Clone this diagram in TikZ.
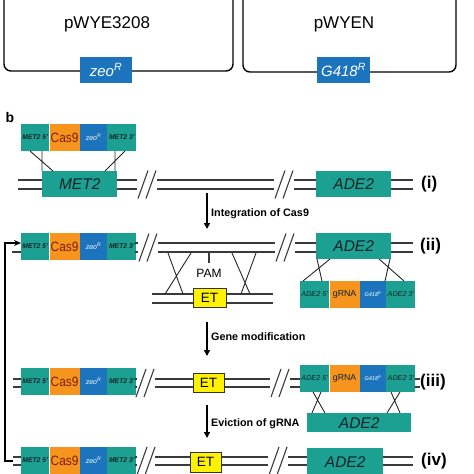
\documentclass[tikz,border=0pt]{standalone}
\usepackage{fontspec}
\setmainfont{Liberation Sans}
\usetikzlibrary{arrows.meta}
\definecolor{tealc}{HTML}{1BA091}
\definecolor{orangec}{HTML}{F7941D}
\definecolor{bluec}{HTML}{1C75BC}
\definecolor{yellc}{HTML}{FFF200}
\definecolor{dnac}{HTML}{3A3A3A}
\definecolor{txtc}{HTML}{142328}
\definecolor{casc}{HTML}{7A1E05}
\newcommand\fs[1]{\fontsize{#1}{#1}\selectfont}
\newcommand\metf{\fs{6.8}\bfseries\itshape}
\newcommand\dl[4]{\draw[dna] (#1,#3) -- (#2,#3) (#1,#4) -- (#2,#4);}
\newcommand\brk[2]{\draw[dna] ({#1-9},{#2+14}) -- ({#1+1},{#2-14}) ({#1-1},{#2+14}) -- ({#1+9},{#2-14});}
\newcommand\metc[2]{%
 \node[seg, fill=tealc, minimum width=28, font=\metf] (#1a) at (21,{#2+13.5}) {MET2 5'};
 \node[seg, fill=orangec, minimum width=30, font=\fs{13.5}, text=casc] (#1b) at (#1a.east) {\scalebox{0.88}[1]{Cas9}};
 \node[seg, fill=bluec, minimum width=27, font=\fs{7}\itshape, text=white] (#1c) at (#1b.east) {zeo\textsuperscript{R}};
 \node[seg, fill=tealc, minimum width=29, font=\metf] (#1d) at (#1c.east) {MET2 3'};
}
\newcommand\adec[2]{%
 \node[seg, fill=tealc, minimum width=29, font=\fs{7.2}\itshape] (#1a) at (300,{#2+13.5}) {ADE2 5'};
 \node[seg, fill=orangec, minimum width=30, font=\fs{8.8}] (#1b) at (#1a.east) {gRNA};
 \node[seg, fill=bluec, minimum width=26, font=\fs{5.5}\itshape, text=white] (#1c) at (#1b.east) {G418\textsuperscript{R}};
 \node[seg, fill=tealc, minimum width=29, font=\fs{7.2}\itshape] (#1d) at (#1c.east) {ADE2 3'};
}
\begin{document}
\begin{tikzpicture}[x=1pt,y=-1pt,
 seg/.style={inner sep=0, minimum height=27, anchor=west, text=txtc},
 dna/.style={draw=dnac, line width=1.1},
 cross/.style={draw=black!85, line width=0.9},
 genebox/.style={fill=tealc, inner sep=0, font=\fs{15.5}\itshape, text=txtc, anchor=north west},
 etbox/.style={fill=yellc, draw=black!80, line width=1, inner sep=0, font=\fs{13.5}, minimum width=33, minimum height=19},
 plasmid/.style={draw=black, line width=1.4, rounded corners=7},
 marker/.style={fill=bluec, inner sep=0, minimum width=52, minimum height=26, font=\fs{15}\itshape, text=white},
 varrow/.style={line width=2.6, -{Triangle[length=6pt,width=6pt]}},
 fb/.style={line width=1.8, -{Stealth[length=7pt,width=6pt]}},
 steplabel/.style={anchor=west, inner sep=0, font=\fs{10.8}\bfseries},
 rowlabel/.style={anchor=west, inner sep=0, font=\fs{17}\bfseries}]
\useasboundingbox (0,0) rectangle (474,474);
\clip (0,0) rectangle (474,474);
% ---- panel a (bottom of plasmids)
\draw[plasmid] (4,-30) rectangle (233,71);
\draw[plasmid] (243,-30) rectangle (456,72);
\node[font=\fs{17}] (p1) at (107,24) {pWYE3208};
\node[font=\fs{17}] (p2) at (344,24) {pWYEN};
\node[marker] (zeoA) at (106,70) {zeo\textsuperscript{R}};
\node[marker, minimum width=53] (g418A) at (343.5,70) {G418\textsuperscript{R}};
\node[font=\fs{14}\bfseries] (lb) at (10,117) {b};
% ---- row (i)
\dl{18}{137}{180}{189}
\dl{157}{274}{180}{189}
\dl{294}{413}{180}{189}
\brk{147}{184.5}
\brk{284}{184.5}
\node[genebox, minimum width=75, minimum height=26] (met2) at (42,171) {MET2};
\node[genebox, minimum width=75, minimum height=26] (ade2i) at (316,171) {ADE2};
\metc{c1}{124}
\draw[cross] (30,151) -- (53,171) (42,151) -- (42,171) (125,151) -- (105,171) (115,151) -- (115,171);
\node[rowlabel] (ri) at (421,184) {(i)};
% arrow 1
\coordinate (a1s) at (207,193); \coordinate (a1e) at (207,229);
\draw[varrow] (a1s) -- (a1e);
\node[steplabel] (t1) at (211,214) {Integration of Cas9};
% ---- row (ii)
\coordinate (fbS) at (13,461); \coordinate (fbE) at (21,243);
\draw[fb] (fbS) -- (5,461) -- (5,243) -- (fbE);
\draw[dna] (12,252) -- (21,252);
\metc{c2}{233}
\dl{135}{138}{243}{252}
\brk{148}{247.5}
\dl{158}{275}{243}{252}
\brk{285}{247.5}
\dl{295}{413}{243}{252}
\node[genebox, minimum width=75, minimum height=26] (ade2ii) at (316,233) {ADE2};
\draw[dna] (209,252) -- (209,263);
\node[font=\fs{12}, inner sep=0] (pam) at (209,273) {PAM};
\dl{152}{273}{294}{303}
\node[etbox] (et2) at (209.5,297.5) {ET};
\draw[cross] (168,253) -- (183,294) (191,253) -- (165,294) (232,253) -- (250,294) (256,253) -- (241,294);
\adec{a2}{281}
\draw[cross] (330,259) -- (303,281) (317,259) -- (322,281) (379,259) -- (404,281) (390,259) -- (385,281);
\node[rowlabel] (rii) at (420,246) {(ii)};
% arrow 2
\coordinate (a2s) at (207,322); \coordinate (a2e) at (207,356);
\draw[varrow] (a2s) -- (a2e);
\node[steplabel] (t2) at (211,337) {Gene modification};
% ---- row (iii)
\dl{13}{21}{379}{387}
\metc{c3}{368}
\dl{135}{137}{379}{387}
\brk{145}{383}
\dl{155}{270}{379}{387}
\brk{280}{383}
\dl{290}{300}{379}{387}
\dl{414}{420}{379}{387}
\node[etbox, minimum width=31] (et3) at (208.5,382.5) {ET};
\adec{a3}{365}
\node[genebox, minimum width=104, minimum height=19] (ade2m) at (307,413) {ADE2};
\draw[cross] (313,392) -- (325,413) (321,392) -- (312,413) (391,392) -- (400,413) (400,392) -- (387,413);
\node[rowlabel] (riii) at (420,382) {(iii)};
% arrow 3
\coordinate (a3s) at (207,405); \coordinate (a3e) at (207,438);
\draw[varrow] (a3s) -- (a3e);
\node[steplabel] (t3) at (211,424) {Eviction of gRNA};
% ---- row (iv)
\dl{13}{21}{457}{465}
\metc{c4}{447}
\dl{135}{137}{457}{465}
\brk{146}{461}
\dl{155}{268}{457}{465}
\brk{278}{461}
\dl{288}{413}{457}{465}
\node[etbox, minimum width=31, minimum height=20] (et4) at (205.5,462) {ET};
\node[genebox, minimum width=76, minimum height=28] (ade2iv) at (307,448) {ADE2};
\node[rowlabel] (riv) at (421,461) {(iv)};
\end{tikzpicture}
\end{document}
